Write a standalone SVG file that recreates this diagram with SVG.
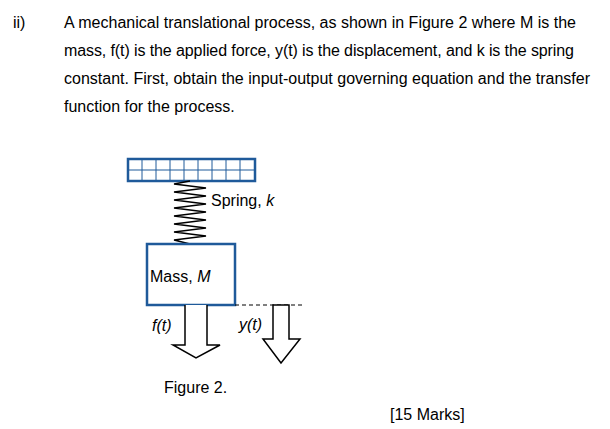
<svg xmlns="http://www.w3.org/2000/svg" width="610" height="429" viewBox="0 0 610 429">
<style>
text{font-family:"Liberation Sans",Arial,sans-serif;fill:#000}
.b{font-size:16px}
.d{font-size:16px}
.blue{fill:none;stroke:#1f5a9a;stroke-width:2.5}
.th{stroke:#1f5a9a;stroke-width:1}
.ar{fill:#fff;stroke:#000;stroke-width:1.5}
</style>
<defs>
<pattern id="dots" width="3" height="3" patternUnits="userSpaceOnUse"><rect width="3" height="3" fill="#fff"/><circle cx="1.5" cy="1.5" r="0.8" fill="#9ab8d8"/></pattern>
</defs>
<rect width="610" height="429" fill="#fff"/>
<text class="b" x="13" y="28">ii)</text>
<text class="b" x="64" y="28" textLength="512">A mechanical translational process, as shown in Figure 2 where M is the</text>
<text class="b" x="64" y="56" textLength="510">mass, f(t) is the applied force, y(t) is the displacement, and k is the spring</text>
<text class="b" x="64" y="84" textLength="526">constant. First, obtain the input-output governing equation and the transfer</text>
<text class="b" x="64" y="112">function for the process.</text>
<g id="ceiling">
<rect x="128" y="159" width="127" height="22" fill="#fff" class="blue"/>
<path class="th" d="M128 170H255 M142 159V181 M156 159V181 M170 159V181 M184 159V181 M198 159V181 M212 159V181 M226 159V181 M240 159V181"/>
</g>
<g id="spring">
<polyline fill="none" stroke="#000" stroke-width="1.3" points="190,181 174,184 206,188 174,192 206,196 174,200 206,204 174,208 206,212 174,216 206,220 174,224 206,228 174,232 206,236 174,240 190,244"/>
<text class="d" x="211" y="206">Spring, <tspan font-style="italic">k</tspan></text>
</g>
<g id="mass">
<rect x="147" y="244" width="88" height="61" fill="url(#dots)" class="blue"/>
<text class="d" x="150" y="282">Mass, <tspan font-style="italic">M</tspan></text>
</g>
<g id="connectors">
<line x1="235" y1="305" x2="302" y2="305" stroke="#000" stroke-dasharray="4,3"/>
<path class="ar" d="M185 305V345H173L196 358L220 345H207V305"/>
<path class="ar" d="M273 305H289V339H300L281 363L263 339H273Z"/>
</g>
<text class="d" x="152" y="331" font-style="italic">f(t)</text>
<text class="d" x="239" y="330" font-style="italic">y(t)</text>
<text class="b" x="164" y="393">Figure 2.</text>
<text class="b" x="390" y="420">[15 Marks]</text>
</svg>
